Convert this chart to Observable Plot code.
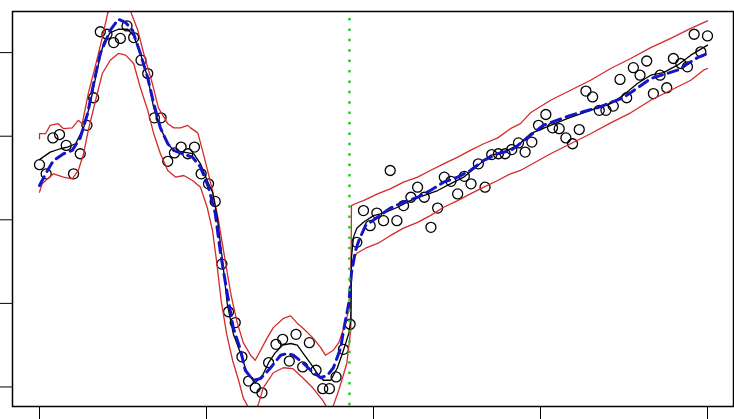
<!DOCTYPE html>
<html>
<head>
<meta charset="utf-8">
<script src="https://cdn.jsdelivr.net/npm/d3@7"></script>
<script src="https://cdn.jsdelivr.net/npm/@observablehq/plot@0.6"></script>
<style>
  html, body { margin: 0; padding: 0; background: #ffffff; }
  #chart { width: 734px; height: 419px; overflow: hidden; }
</style>
</head>
<body>
<div id="chart"></div>
<script>
// ---- data ----
const xTicks = [0, 0.25, 0.5, 0.75, 1];
const yTicks = [-2, -1, 0, 1, 2];

const obsX = [0, .010, .020, .030, .040, .051, .061, .071, .081, .091,
  .101, .111, .121, .131, .141, .152, .162, .172, .182, .192,
  .202, .212, .222, .232, .242, .253, .263, .273, .283, .293,
  .303, .313, .323, .333, .343, .354, .364, .374, .384, .394,
  .404, .414, .424, .434, .444, .455, .465, .475, .485, .495,
  .505, .515, .525, .535, .545, .556, .566, .576, .586, .596,
  .606, .616, .626, .636, .646, .657, .667, .677, .687, .697,
  .707, .717, .727, .737, .747, .758, .768, .778, .788, .798,
  .808, .818, .828, .838, .848, .859, .869, .879, .889, .899,
  .909, .919, .929, .939, .949, .960, .970, .980, .990, 1];
const obsY = [0.66, 0.55, 0.98, 1.02, 0.89, 0.55, 0.79, 1.13, 1.46, 2.25,
  2.22, 2.12, 2.17, 2.32, 2.18, 1.91, 1.75, 1.22, 1.22, 0.70,
  0.80, 0.87, 0.79, 0.87, 0.55, 0.43, 0.22, -0.53, -1.10, -1.23,
  -1.64, -1.93, -2.01, -2.07, -1.71, -1.49, -1.43, -1.69, -1.37, -1.76,
  -1.47, -1.80, -2.02, -2.02, -1.88, -1.55, -1.25, -0.27, 0.11, -0.07,
  0.08, -0.01, 0.59, -0.01, 0.17, 0.27, 0.39, 0.27, -0.09, 0.14,
  0.51, 0.46, 0.31, 0.52, 0.43, 0.67, 0.39, 0.78, 0.79, 0.79,
  0.84, 0.92, 0.81, 0.93, 1.13, 1.26, 1.10, 1.09, 0.98, 0.91,
  1.08, 1.54, 1.47, 1.31, 1.31, 1.36, 1.68, 1.46, 1.82, 1.73,
  1.90, 1.51, 1.73, 1.58, 1.93, 1.87, 1.83, 2.22, 2.01, 2.20];

// fitted curve (black solid)
const fitX = [0, 0.016, 0.031, 0.042, 0.054, 0.066, 0.076, 0.087, 0.096, 0.106,
  0.118, 0.132, 0.141, 0.151, 0.162, 0.171, 0.181, 0.192, 0.201, 0.216,
  0.231, 0.241, 0.251, 0.259, 0.266, 0.274, 0.281, 0.290, 0.301, 0.311,
  0.323, 0.334, 0.343, 0.353, 0.364, 0.376, 0.386, 0.395, 0.406, 0.416,
  0.425, 0.436, 0.446, 0.455, 0.463, 0.466, 0.467, 0.470, 0.475, 0.485,
  0.500, 0.515, 0.536, 0.555, 0.575, 0.596, 0.615, 0.635, 0.656, 0.675,
  0.695, 0.716, 0.735, 0.765, 0.790, 0.814, 0.835, 0.855, 0.874, 0.895,
  0.915, 0.934, 0.955, 0.975, 1.0];
const fitY = [0.72, 0.81, 0.85, 0.87, 0.91, 1.10, 1.39, 1.82, 2.12, 2.24,
  2.28, 2.28, 2.20, 1.99, 1.70, 1.34, 1.10, 0.91, 0.83, 0.81,
  0.79, 0.67, 0.47, 0.33, 0.03, -0.49, -1.00, -1.36, -1.60, -1.84,
  -1.95, -1.86, -1.71, -1.59, -1.50, -1.48, -1.50, -1.60, -1.72, -1.84,
  -1.92, -1.92, -1.77, -1.56, -1.36, -1.20, -0.45, -0.21, -0.10, -0.03,
  0.05, 0.08, 0.15, 0.23, 0.29, 0.35, 0.43, 0.51, 0.65, 0.77,
  0.81, 0.89, 1.03, 1.13, 1.21, 1.28, 1.34, 1.39, 1.49, 1.63,
  1.73, 1.76, 1.85, 1.97, 2.09];

// true curve (blue dashed)
const trueX = [0, 0.012, 0.021, 0.036, 0.049, 0.061, 0.072, 0.081, 0.091, 0.106,
  0.118, 0.129, 0.139, 0.151, 0.162, 0.171, 0.181, 0.192, 0.201, 0.214,
  0.229, 0.241, 0.253, 0.263, 0.271, 0.281, 0.290, 0.301, 0.308, 0.320,
  0.331, 0.346, 0.361, 0.371, 0.380, 0.394, 0.406, 0.421, 0.431, 0.440,
  0.451, 0.455, 0.463, 0.467, 0.473, 0.478, 0.488, 0.506, 0.525, 0.545,
  0.566, 0.585, 0.605, 0.626, 0.645, 0.665, 0.686, 0.705, 0.716, 0.754,
  0.795, 0.835, 0.874, 0.915, 0.955, 0.985, 1.0];
const trueY = [0.41, 0.59, 0.71, 0.79, 0.83, 0.98, 1.27, 1.63, 1.99, 2.27,
  2.40, 2.36, 2.27, 1.99, 1.70, 1.39, 1.10, 0.91, 0.83, 0.79,
  0.75, 0.63, 0.39, 0.08, -0.40, -0.88, -1.29, -1.56, -1.80, -1.92,
  -1.90, -1.77, -1.62, -1.60, -1.62, -1.71, -1.80, -1.89, -1.86, -1.77,
  -1.53, -1.33, -1.00, -0.64, -0.37, -0.25, -0.07, 0.03, 0.14, 0.21,
  0.27, 0.35, 0.45, 0.51, 0.59, 0.71, 0.79, 0.83, 0.89, 1.13,
  1.25, 1.34, 1.46, 1.69, 1.79, 1.94, 1.99];

// upper band (red)
const upperX = [0, 0, 0.009, 0.016, 0.028, 0.036, 0.049, 0.058, 0.064, 0.073,
  0.084, 0.094, 0.102, 0.111, 0.120, 0.129, 0.136, 0.147, 0.156, 0.169,
  0.178, 0.192, 0.201, 0.211, 0.222, 0.226, 0.237, 0.244, 0.251, 0.259,
  0.268, 0.278, 0.287, 0.296, 0.305, 0.316, 0.323, 0.331, 0.341, 0.350,
  0.365, 0.376, 0.386, 0.395, 0.409, 0.421, 0.428, 0.440, 0.448, 0.458,
  0.466, 0.467, 0.478, 0.485, 0.506, 0.525, 0.545, 0.566, 0.585, 0.605,
  0.626, 0.645, 0.665, 0.686, 0.705, 0.720, 0.735, 0.765, 0.795, 0.825,
  0.855, 0.885, 0.915, 0.945, 0.975, 1.0];
const upperY = [0.97, 1.03, 1.03, 1.13, 1.15, 1.09, 1.10, 1.19, 1.15, 1.51,
  1.85, 2.18, 2.47, 2.62, 2.66, 2.64, 2.50, 2.27, 1.99, 1.63,
  1.34, 1.15, 1.10, 1.10, 1.13, 1.10, 1.04, 0.83, 0.61, 0.35,
  -0.01, -0.49, -0.91, -1.23, -1.47, -1.62, -1.68, -1.56, -1.41, -1.29,
  -1.18, -1.15, -1.24, -1.30, -1.41, -1.53, -1.62, -1.56, -1.47, -1.24,
  -0.97, 0.17, 0.21, 0.23, 0.31, 0.37, 0.45, 0.51, 0.59, 0.67,
  0.75, 0.83, 0.91, 0.98, 1.09, 1.15, 1.28, 1.43, 1.55, 1.67,
  1.81, 1.93, 2.06, 2.17, 2.29, 2.38];

// lower band (red)
const lowerX = [0, 0.004, 0.012, 0.021, 0.036, 0.049, 0.058, 0.066, 0.073, 0.084,
  0.094, 0.106, 0.118, 0.129, 0.141, 0.151, 0.162, 0.171, 0.181, 0.192,
  0.204, 0.216, 0.229, 0.241, 0.251, 0.259, 0.265, 0.272, 0.280, 0.289,
  0.298, 0.305, 0.313, 0.320, 0.328, 0.335, 0.350, 0.365, 0.379, 0.394,
  0.409, 0.424, 0.433, 0.440, 0.448, 0.460, 0.466, 0.467, 0.475, 0.488,
  0.507, 0.525, 0.545, 0.566, 0.585, 0.605, 0.626, 0.645, 0.665, 0.686,
  0.705, 0.720, 0.765, 0.795, 0.825, 0.855, 0.885, 0.915, 0.945, 0.975,
  0.994, 1.0];
const lowerY = [0.33, 0.43, 0.49, 0.55, 0.51, 0.49, 0.59, 0.79, 1.07, 1.43,
  1.75, 1.91, 1.99, 1.97, 1.87, 1.58, 1.31, 1.03, 0.79, 0.59,
  0.51, 0.53, 0.47, 0.39, 0.15, -0.13, -0.49, -0.97, -1.36, -1.68,
  -1.92, -2.13, -2.25, -2.34, -2.20, -2.01, -1.83, -1.77, -1.78, -1.89,
  -2.01, -2.16, -2.28, -2.22, -2.04, -1.72, -1.32, -0.51, -0.40, -0.34,
  -0.28, -0.19, -0.10, -0.03, 0.05, 0.15, 0.23, 0.31, 0.39, 0.47,
  0.55, 0.59, 0.79, 0.91, 1.03, 1.16, 1.28, 1.43, 1.55, 1.67,
  1.79, 1.81];

const changePoint = [0.464];

// ---- build tables ----
const pts = obsX.map((x, i) => ({x, y: obsY[i]}));
const toRows = (xs, ys) => xs.map((x, i) => ({x, y: ys[i]}));
const fit = toRows(fitX, fitY);
const truth = toRows(trueX, trueY);
const upper = toRows(upperX, upperY);
const lower = toRows(lowerX, lowerY);

const chart = Plot.plot({
  width: 734,
  height: 419,
  marginLeft: 12,
  marginRight: 1,
  marginTop: 11,
  marginBottom: 13,
  style: {background: "#ffffff", overflow: "visible"},
  x: {domain: [-0.04042, 1.03892], ticks: xTicks, tickSize: 13, tickFormat: () => "", label: null},
  y: {domain: [-2.2338, 2.4922], ticks: yTicks, tickSize: 12, tickFormat: () => "", label: null},
  marks: [
    Plot.dot(pts, {x: "x", y: "y", r: 5, stroke: "#000000", strokeWidth: 1.3, fill: "none"}),
    Plot.line(upper, {x: "x", y: "y", stroke: "#d42a2a", strokeWidth: 1.3, clip: true}),
    Plot.line(lower, {x: "x", y: "y", stroke: "#d42a2a", strokeWidth: 1.3, clip: true}),
    Plot.line(fit, {x: "x", y: "y", stroke: "#000000", strokeWidth: 1.3, clip: true}),
    Plot.line(truth, {x: "x", y: "y", stroke: "#1515c8", strokeWidth: 3, strokeDasharray: "10,6", clip: true}),
    Plot.ruleX(changePoint, {stroke: "#2cc22c", strokeWidth: 2.5, strokeDasharray: "2.5,7.9", strokeDashoffset: -7}),
    Plot.frame({stroke: "#000000", strokeWidth: 1.5})
  ]
});
chart.querySelectorAll("g[aria-label$='axis'] path, g[aria-label$='axis'] line").forEach(el => {
  el.setAttribute("stroke-width", "1.5");
});
document.getElementById("chart").appendChild(chart);
</script>
</body>
</html>
